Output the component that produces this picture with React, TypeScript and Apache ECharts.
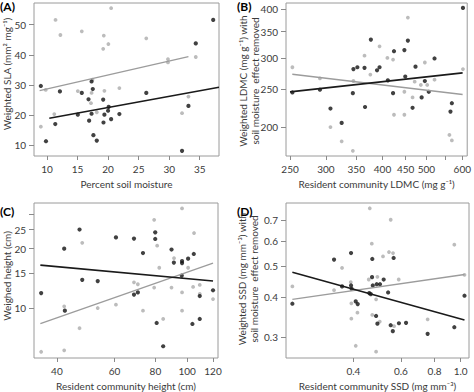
import React, { useEffect, useRef } from "react";
import * as echarts from "echarts";

type P = [number, number];

// Panel A: percent soil moisture vs weighted SLA
const slaBlack: P[] = [
  [9.0, 29.7], [9.84, 11.4], [11.36, 17.1], [12.12, 27.9], [15.05, 20.2], [15.7, 27.4],
  [16.8, 25.3], [16.9, 18.2], [17.3, 31.2], [17.3, 20.5], [17.5, 28.7], [17.6, 13.4],
  [18.15, 11.6], [19.2, 25.2], [19.25, 17.6], [19.4, 20.2], [20.0, 21.5], [20.1, 22.8],
  [20.5, 18.7], [21.85, 20.4], [26.25, 27.4], [32.1, 8.2], [33.15, 23.1], [34.35, 43.8],
  [37.2, 51.6],
];
const slaGray: P[] = [
  [9.0, 16.2], [9.8, 28.4], [11.2, 20.4], [11.4, 51.6], [12.2, 46.6], [15.05, 28.0],
  [15.7, 47.8], [17.2, 24.0], [17.3, 27.4], [17.45, 31.8], [18.15, 21.0], [19.2, 42.0],
  [19.3, 46.4], [19.4, 28.1], [20.05, 43.6], [20.5, 55.5], [21.85, 29.0], [26.25, 45.5],
  [29.8, 38.6], [29.8, 37.5], [32.1, 20.7], [33.15, 26.2], [34.35, 39.3],
];
const slaBlackFit: P[] = [[10.38, 19.0], [38.15, 29.3]];
const slaGrayFit: P[] = [[8.8, 28.2], [33.15, 39.4]];

// Panel B: resident LDMC vs weighted LDMC
const ldmcBlack: P[] = [
  [253, 245], [291, 249], [307, 223], [325, 205], [345, 281], [344, 244], [352, 284],
  [365, 283], [366, 225], [377, 334], [389, 279], [394, 284], [411, 263], [422, 244],
  [424, 312], [447, 314], [449, 269], [455, 332], [466, 224], [473, 285], [488, 238],
  [496, 262], [506, 246], [521, 299], [565, 219], [569, 230], [602, 402],
];
const ldmcGray: P[] = [
  [253, 284], [291, 266], [307, 200], [325, 184], [344, 174], [345, 262], [365, 304],
  [376, 272], [394, 321], [410, 300], [422, 297], [424, 215], [447, 246], [447, 215],
  [455, 380], [466, 238], [471, 261], [486, 256], [496, 292], [502, 256], [521, 264],
  [562, 191], [569, 185], [602, 281],
];
const ldmcBlackFit: P[] = [[250, 245.9], [601, 274.8]];
const ldmcGrayFit: P[] = [[252.9, 272.6], [601, 242.1]];

// Panel C: resident height vs weighed height
const heightBlack: P[] = [
  [35.8, 11.9], [42.1, 20.0], [42.3, 9.7], [46.9, 25.0], [47.8, 13.9], [53.3, 13.7],
  [60.6, 22.8], [68.8, 22.5], [68.8, 11.7], [70.7, 12.0], [73.3, 19.0], [79.9, 24.2],
  [79.9, 22.4], [80.7, 8.4], [84.5, 6.4], [89.6, 19.8], [91.1, 17.0], [96.5, 17.3],
  [96.5, 16.9], [96.3, 14.6], [100.7, 17.8], [104.8, 18.8], [103.8, 8.3], [109.3, 11.5],
  [109.3, 8.8], [120, 12.3],
];
const heightGray: P[] = [
  [35.8, 6.0], [42.1, 10.2], [42.1, 6.1], [46.9, 7.9], [47.8, 21.4], [53.3, 10.0],
  [60.6, 10.4], [68.8, 13.5], [70.7, 13.2], [73.3, 9.7], [79.3, 28.0], [79.3, 12.7],
  [81.0, 20.7], [82.2, 16.0], [84.5, 8.8], [89.6, 12.7], [91.2, 17.9], [96.5, 32.0],
  [96.5, 12.0], [96.5, 9.7], [100.7, 16.0], [104.3, 12.8], [105.0, 24.0], [109.3, 13.1],
  [109.3, 11.8], [120, 11.1],
];
const heightBlackFit: P[] = [[35.6, 16.5], [120, 13.7]];
const heightGrayFit: P[] = [[35.6, 8.34], [120, 16.9]];

// Panel D: resident SSD vs weighted SSD
const ssdBlack: P[] = [
  [0.2375, 0.3815], [0.339, 0.5255], [0.363, 0.4325], [0.392, 0.5512], [0.392, 0.4355],
  [0.394, 0.425], [0.408, 0.388], [0.415, 0.3805], [0.458, 0.412], [0.464, 0.409],
  [0.469, 0.4626], [0.472, 0.4355], [0.47, 0.528], [0.4855, 0.349], [0.491, 0.33],
  [0.488, 0.4395], [0.502, 0.4395], [0.518, 0.4548], [0.538, 0.414], [0.55, 0.3263],
  [0.56, 0.3125], [0.564, 0.5318], [0.59, 0.331], [0.627, 0.332], [0.754, 0.3065],
  [0.947, 0.3216], [1.033, 0.4043],
];
const ssdGray: P[] = [
  [0.2375, 0.4325], [0.339, 0.421], [0.363, 0.4946], [0.391, 0.4462], [0.393, 0.3825],
  [0.393, 0.3422], [0.408, 0.281], [0.414, 0.3575], [0.456, 0.4548], [0.46, 0.763],
  [0.468, 0.59], [0.47, 0.3516], [0.4855, 0.3937], [0.4855, 0.2692], [0.491, 0.4636],
  [0.501, 0.335], [0.515, 0.538], [0.542, 0.5553], [0.55, 0.702], [0.561, 0.5512],
  [0.566, 0.324], [0.589, 0.4548], [0.754, 0.3405], [0.947, 0.5856], [1.033, 0.4705],
];
const ssdBlackFit: P[] = [[0.2375, 0.4797], [1.033, 0.339]];
const ssdGrayFit: P[] = [[0.2375, 0.3937], [1.033, 0.4716]];

// Tick values
const aXTicks = [10, 15, 20, 25, 30, 35];
const aYTicks = [10, 20, 30, 40, 50];
const bXTicks = [250, 300, 350, 400, 450, 500, 550, 600];
const bXLabels = [250, 300, 350, 400, 450, 500, 600];
const bYTicks = [200, 250, 300, 350, 400];
const cXTicks = [40, 60, 80, 100, 120];
const cYTicks = [10, 15, 20, 25, 30];
const cYLabels = [10, 15, 20, 25];
const dXTicks = [0.4, 0.6, 0.8, 1.0];
const dYTicks = [0.3, 0.4, 0.5, 0.6, 0.7];

const FONT = "Lato, 'Liberation Sans', sans-serif";
const TXT = "#3a3a3a";
const BLACK = "#111111";
const GRAY = "#ababab";

// log10 scales (panel D expressed per 10 so its log range stays positive)
const lg = (v: number) => Math.log10(v);
const lgD = (v: number) => Math.log10(v * 10);
const logPts = (pts: P[]) => pts.map(([x, y]) => [lg(x), lg(y)]);
const logPtsD = (pts: P[]) => pts.map(([x, y]) => [lgD(x), lgD(y)]);

function makeAxis(
  gridIndex: number,
  min: number,
  max: number,
  ticks: number[],
  labels: number[],
  fmt: (v: number) => string,
  isX: boolean,
  name?: string
) {
  return {
    type: "value",
    gridIndex,
    min,
    max,
    position: isX ? "bottom" : "left",
    name: name || "",
    nameLocation: "middle",
    nameGap: 23,
    nameTextStyle: { fontSize: 10, color: TXT, fontFamily: FONT },
    splitLine: { show: false },
    axisLine: { show: false, onZero: false },
    axisTick: {
      show: true,
      customValues: ticks,
      length: isX ? 4 : 5,
      lineStyle: { color: "#8a8a8a", width: 1 },
    },
    axisLabel: {
      customValues: labels,
      formatter: fmt,
      fontSize: 10,
      color: TXT,
      fontFamily: FONT,
      margin: 8,
    },
  };
}

const linFmt = (v: number) => String(Math.round(v));
const logIntFmt = (v: number) => String(Math.round(Math.pow(10, v)));
const logDecFmtD = (v: number) => (Math.pow(10, v) / 10).toFixed(1);

function scatter(i: number, data: number[][], color: string, size: number) {
  return {
    type: "scatter",
    xAxisIndex: i,
    yAxisIndex: i,
    data,
    symbol: "circle",
    symbolSize: size,
    itemStyle: { color, borderWidth: 0 },
    silent: true,
  };
}
function fit(i: number, data: number[][], color: string, width: number) {
  return {
    type: "line",
    xAxisIndex: i,
    yAxisIndex: i,
    data,
    symbol: "none",
    showSymbol: false,
    clip: true,
    lineStyle: { color, width },
    silent: true,
  };
}

export default function App() {
  const ref = useRef<HTMLDivElement>(null);
  useEffect(() => {
    document.body.style.margin = "0";
    const chart = echarts.init(ref.current as HTMLDivElement, null, { renderer: "svg" });
    const gridBase = { show: true, borderColor: "#9a9a9a", borderWidth: 1, containLabel: false };
    const option = {
      animation: false,
      backgroundColor: "#ffffff",
      grid: [
        { ...gridBase, left: 34, top: 3, width: 185, height: 153 },
        { ...gridBase, left: 286, top: 3, width: 183, height: 153 },
        { ...gridBase, left: 34, top: 203, width: 184, height: 156 },
        { ...gridBase, left: 286, top: 203, width: 183, height: 156 },
      ],
      xAxis: [
        makeAxis(0, 7.88, 38.15, aXTicks, aXTicks, linFmt, true, "Percent soil moisture"),
        makeAxis(1, 2.389, 2.789, bXTicks.map(lg), bXLabels.map(lg), logIntFmt, true,
          "Resident community LDMC (mg g\u207B\u00B9)"),
        makeAxis(2, 1.532, 2.0944, cXTicks.map(lg), cXTicks.map(lg), logIntFmt, true,
          "Resident community height (cm)"),
        makeAxis(3, 0.352, 1.0308, dXTicks.map(lgD), dXTicks.map(lgD), logDecFmtD, true,
          "Resident community SSD (mg mm\u207B\u00B3)"),
      ],
      yAxis: [
        makeAxis(0, 6.5, 57.2, aYTicks, aYTicks, linFmt, false),
        makeAxis(1, 2.2275, 2.6168, bYTicks.map(lg), bYTicks.map(lg), logIntFmt, false),
        makeAxis(2, 0.7466, 1.5325, cYTicks.map(lg), cYLabels.map(lg), logIntFmt, false),
        makeAxis(3, 0.4102, 0.8992, dYTicks.map(lgD), dYTicks.map(lgD), logDecFmtD, false),
      ],
      series: [
        scatter(0, slaGray, GRAY, 3.8),
        scatter(0, slaBlack, BLACK, 4.2),
        fit(0, slaGrayFit, "#9c9c9c", 1.3),
        fit(0, slaBlackFit, "#1a1a1a", 1.6),
        scatter(1, logPts(ldmcGray), GRAY, 3.8),
        scatter(1, logPts(ldmcBlack), BLACK, 4.2),
        fit(1, logPts(ldmcGrayFit), "#9c9c9c", 1.3),
        fit(1, logPts(ldmcBlackFit), "#1a1a1a", 1.6),
        scatter(2, logPts(heightGray), GRAY, 3.8),
        scatter(2, logPts(heightBlack), BLACK, 4.2),
        fit(2, logPts(heightGrayFit), "#9c9c9c", 1.3),
        fit(2, logPts(heightBlackFit), "#1a1a1a", 1.6),
        scatter(3, logPtsD(ssdGray), GRAY, 3.8),
        scatter(3, logPtsD(ssdBlack), BLACK, 4.2),
        fit(3, logPtsD(ssdGrayFit), "#9c9c9c", 1.3),
        fit(3, logPtsD(ssdBlackFit), "#1a1a1a", 1.6),
      ],
      graphic: [
        { type: "text", left: 0, top: 0, style: { text: "(A)", fontSize: 12, fontWeight: "bold", fill: "#000", fontFamily: FONT } },
        { type: "text", left: 237, top: 0, style: { text: "(B)", fontSize: 12, fontWeight: "bold", fill: "#000", fontFamily: FONT } },
        { type: "text", left: 0, top: 205, style: { text: "(C)", fontSize: 12, fontWeight: "bold", fill: "#000", fontFamily: FONT } },
        { type: "text", left: 237, top: 205, style: { text: "(D)", fontSize: 12, fontWeight: "bold", fill: "#000", fontFamily: FONT } },
        {
          type: "text", x: 7, y: 74, rotation: Math.PI / 2,
          style: { text: "Weighted SLA (mm\u00B2 mg\u207B\u00B9)", fontSize: 10, fill: TXT, fontFamily: FONT, align: "center", verticalAlign: "middle" },
        },
        {
          type: "text", x: 249, y: 81, rotation: Math.PI / 2,
          style: { text: "Weighted LDMC (mg g\u207B\u00B9) with\nsoil moisture  effect removed", fontSize: 10, lineHeight: 11.5, fill: TXT, fontFamily: FONT, align: "center", verticalAlign: "middle" },
        },
        {
          type: "text", x: 7, y: 276, rotation: Math.PI / 2,
          style: { text: "Weighed height (cm)", fontSize: 10, fill: TXT, fontFamily: FONT, align: "center", verticalAlign: "middle" },
        },
        {
          type: "text", x: 248, y: 279, rotation: Math.PI / 2,
          style: { text: "Weighted SSD (mg mm\u207B\u00B3) with\nsoil moisture  effect removed", fontSize: 10, lineHeight: 11.5, fill: TXT, fontFamily: FONT, align: "center", verticalAlign: "middle" },
        },
      ],
    };
    chart.setOption(option as any);
    return () => chart.dispose();
  }, []);
  return <div ref={ref} style={{ width: 474, height: 392 }} />;
}
